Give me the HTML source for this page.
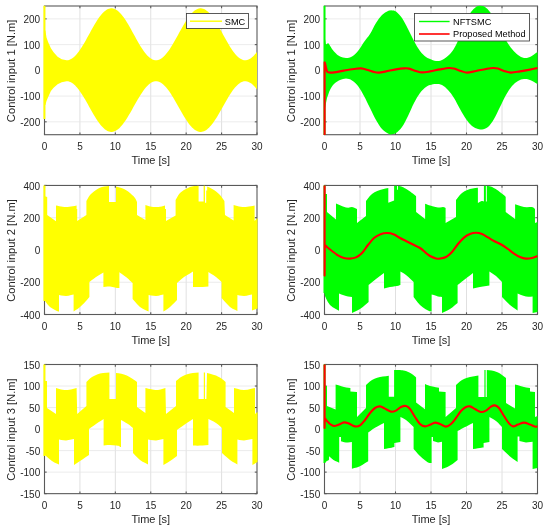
<!DOCTYPE html>
<html><head><meta charset="utf-8"><title>Control inputs</title>
<style>html,body{margin:0;padding:0;background:#fff}body{width:550px;height:531px;overflow:hidden}</style>
</head><body>
<svg width="550" height="531" viewBox="0 0 550 531" style="display:block">
<rect width="550" height="531" fill="#fff"/>
<g stroke-width="0.75"><line stroke="#cfcfcf" stroke-width="0.65" x1="79.92" y1="6" x2="79.92" y2="134.7"/><line stroke="#cfcfcf" stroke-width="0.65" x1="115.33" y1="6" x2="115.33" y2="134.7"/><line stroke="#cfcfcf" stroke-width="0.65" x1="150.75" y1="6" x2="150.75" y2="134.7"/><line stroke="#cfcfcf" stroke-width="0.65" x1="186.17" y1="6" x2="186.17" y2="134.7"/><line stroke="#cfcfcf" stroke-width="0.65" x1="221.58" y1="6" x2="221.58" y2="134.7"/><line stroke="#e6e6e6" x1="44.5" y1="121.83" x2="257" y2="121.83"/><line stroke="#e6e6e6" x1="44.5" y1="96.09" x2="257" y2="96.09"/><line stroke="#e6e6e6" x1="44.5" y1="70.35" x2="257" y2="70.35"/><line stroke="#e6e6e6" x1="44.5" y1="44.61" x2="257" y2="44.61"/><line stroke="#e6e6e6" x1="44.5" y1="18.87" x2="257" y2="18.87"/></g>
<g stroke="#5a5a5a" stroke-width="1.1"><rect x="44.5" y="6" width="212.5" height="128.7" fill="none"/><line x1="44.5" y1="134.7" x2="44.5" y2="132.5"/><line x1="44.5" y1="6" x2="44.5" y2="8.2"/><line x1="79.92" y1="134.7" x2="79.92" y2="132.5"/><line x1="79.92" y1="6" x2="79.92" y2="8.2"/><line x1="115.33" y1="134.7" x2="115.33" y2="132.5"/><line x1="115.33" y1="6" x2="115.33" y2="8.2"/><line x1="150.75" y1="134.7" x2="150.75" y2="132.5"/><line x1="150.75" y1="6" x2="150.75" y2="8.2"/><line x1="186.17" y1="134.7" x2="186.17" y2="132.5"/><line x1="186.17" y1="6" x2="186.17" y2="8.2"/><line x1="221.58" y1="134.7" x2="221.58" y2="132.5"/><line x1="221.58" y1="6" x2="221.58" y2="8.2"/><line x1="257" y1="134.7" x2="257" y2="132.5"/><line x1="257" y1="6" x2="257" y2="8.2"/><line x1="44.5" y1="121.83" x2="46.7" y2="121.83"/><line x1="257" y1="121.83" x2="254.8" y2="121.83"/><line x1="44.5" y1="96.09" x2="46.7" y2="96.09"/><line x1="257" y1="96.09" x2="254.8" y2="96.09"/><line x1="44.5" y1="70.35" x2="46.7" y2="70.35"/><line x1="257" y1="70.35" x2="254.8" y2="70.35"/><line x1="44.5" y1="44.61" x2="46.7" y2="44.61"/><line x1="257" y1="44.61" x2="254.8" y2="44.61"/><line x1="44.5" y1="18.87" x2="46.7" y2="18.87"/><line x1="257" y1="18.87" x2="254.8" y2="18.87"/></g>
<g stroke-width="0.75"><line stroke="#cfcfcf" stroke-width="0.65" x1="360" y1="6" x2="360" y2="134.7"/><line stroke="#cfcfcf" stroke-width="0.65" x1="395.5" y1="6" x2="395.5" y2="134.7"/><line stroke="#cfcfcf" stroke-width="0.65" x1="431" y1="6" x2="431" y2="134.7"/><line stroke="#cfcfcf" stroke-width="0.65" x1="466.5" y1="6" x2="466.5" y2="134.7"/><line stroke="#cfcfcf" stroke-width="0.65" x1="502" y1="6" x2="502" y2="134.7"/><line stroke="#e6e6e6" x1="324.5" y1="121.83" x2="537.5" y2="121.83"/><line stroke="#e6e6e6" x1="324.5" y1="96.09" x2="537.5" y2="96.09"/><line stroke="#e6e6e6" x1="324.5" y1="70.35" x2="537.5" y2="70.35"/><line stroke="#e6e6e6" x1="324.5" y1="44.61" x2="537.5" y2="44.61"/><line stroke="#e6e6e6" x1="324.5" y1="18.87" x2="537.5" y2="18.87"/></g>
<g stroke="#5a5a5a" stroke-width="1.1"><rect x="324.5" y="6" width="213" height="128.7" fill="none"/><line x1="324.5" y1="134.7" x2="324.5" y2="132.5"/><line x1="324.5" y1="6" x2="324.5" y2="8.2"/><line x1="360" y1="134.7" x2="360" y2="132.5"/><line x1="360" y1="6" x2="360" y2="8.2"/><line x1="395.5" y1="134.7" x2="395.5" y2="132.5"/><line x1="395.5" y1="6" x2="395.5" y2="8.2"/><line x1="431" y1="134.7" x2="431" y2="132.5"/><line x1="431" y1="6" x2="431" y2="8.2"/><line x1="466.5" y1="134.7" x2="466.5" y2="132.5"/><line x1="466.5" y1="6" x2="466.5" y2="8.2"/><line x1="502" y1="134.7" x2="502" y2="132.5"/><line x1="502" y1="6" x2="502" y2="8.2"/><line x1="537.5" y1="134.7" x2="537.5" y2="132.5"/><line x1="537.5" y1="6" x2="537.5" y2="8.2"/><line x1="324.5" y1="121.83" x2="326.7" y2="121.83"/><line x1="537.5" y1="121.83" x2="535.3" y2="121.83"/><line x1="324.5" y1="96.09" x2="326.7" y2="96.09"/><line x1="537.5" y1="96.09" x2="535.3" y2="96.09"/><line x1="324.5" y1="70.35" x2="326.7" y2="70.35"/><line x1="537.5" y1="70.35" x2="535.3" y2="70.35"/><line x1="324.5" y1="44.61" x2="326.7" y2="44.61"/><line x1="537.5" y1="44.61" x2="535.3" y2="44.61"/><line x1="324.5" y1="18.87" x2="326.7" y2="18.87"/><line x1="537.5" y1="18.87" x2="535.3" y2="18.87"/></g>
<g stroke-width="0.75"><line stroke="#cfcfcf" stroke-width="0.65" x1="79.92" y1="185.45" x2="79.92" y2="314.5"/><line stroke="#cfcfcf" stroke-width="0.65" x1="115.33" y1="185.45" x2="115.33" y2="314.5"/><line stroke="#cfcfcf" stroke-width="0.65" x1="150.75" y1="185.45" x2="150.75" y2="314.5"/><line stroke="#cfcfcf" stroke-width="0.65" x1="186.17" y1="185.45" x2="186.17" y2="314.5"/><line stroke="#cfcfcf" stroke-width="0.65" x1="221.58" y1="185.45" x2="221.58" y2="314.5"/><line stroke="#e6e6e6" x1="44.5" y1="282.24" x2="257" y2="282.24"/><line stroke="#e6e6e6" x1="44.5" y1="249.97" x2="257" y2="249.97"/><line stroke="#e6e6e6" x1="44.5" y1="217.71" x2="257" y2="217.71"/></g>
<g stroke="#5a5a5a" stroke-width="1.1"><rect x="44.5" y="185.45" width="212.5" height="129.05" fill="none"/><line x1="44.5" y1="314.5" x2="44.5" y2="312.3"/><line x1="44.5" y1="185.45" x2="44.5" y2="187.65"/><line x1="79.92" y1="314.5" x2="79.92" y2="312.3"/><line x1="79.92" y1="185.45" x2="79.92" y2="187.65"/><line x1="115.33" y1="314.5" x2="115.33" y2="312.3"/><line x1="115.33" y1="185.45" x2="115.33" y2="187.65"/><line x1="150.75" y1="314.5" x2="150.75" y2="312.3"/><line x1="150.75" y1="185.45" x2="150.75" y2="187.65"/><line x1="186.17" y1="314.5" x2="186.17" y2="312.3"/><line x1="186.17" y1="185.45" x2="186.17" y2="187.65"/><line x1="221.58" y1="314.5" x2="221.58" y2="312.3"/><line x1="221.58" y1="185.45" x2="221.58" y2="187.65"/><line x1="257" y1="314.5" x2="257" y2="312.3"/><line x1="257" y1="185.45" x2="257" y2="187.65"/><line x1="44.5" y1="314.5" x2="46.7" y2="314.5"/><line x1="257" y1="314.5" x2="254.8" y2="314.5"/><line x1="44.5" y1="282.24" x2="46.7" y2="282.24"/><line x1="257" y1="282.24" x2="254.8" y2="282.24"/><line x1="44.5" y1="249.97" x2="46.7" y2="249.97"/><line x1="257" y1="249.97" x2="254.8" y2="249.97"/><line x1="44.5" y1="217.71" x2="46.7" y2="217.71"/><line x1="257" y1="217.71" x2="254.8" y2="217.71"/><line x1="44.5" y1="185.45" x2="46.7" y2="185.45"/><line x1="257" y1="185.45" x2="254.8" y2="185.45"/></g>
<g stroke-width="0.75"><line stroke="#cfcfcf" stroke-width="0.65" x1="360" y1="185.45" x2="360" y2="314.5"/><line stroke="#cfcfcf" stroke-width="0.65" x1="395.5" y1="185.45" x2="395.5" y2="314.5"/><line stroke="#cfcfcf" stroke-width="0.65" x1="431" y1="185.45" x2="431" y2="314.5"/><line stroke="#cfcfcf" stroke-width="0.65" x1="466.5" y1="185.45" x2="466.5" y2="314.5"/><line stroke="#cfcfcf" stroke-width="0.65" x1="502" y1="185.45" x2="502" y2="314.5"/><line stroke="#e6e6e6" x1="324.5" y1="282.24" x2="537.5" y2="282.24"/><line stroke="#e6e6e6" x1="324.5" y1="249.97" x2="537.5" y2="249.97"/><line stroke="#e6e6e6" x1="324.5" y1="217.71" x2="537.5" y2="217.71"/></g>
<g stroke="#5a5a5a" stroke-width="1.1"><rect x="324.5" y="185.45" width="213" height="129.05" fill="none"/><line x1="324.5" y1="314.5" x2="324.5" y2="312.3"/><line x1="324.5" y1="185.45" x2="324.5" y2="187.65"/><line x1="360" y1="314.5" x2="360" y2="312.3"/><line x1="360" y1="185.45" x2="360" y2="187.65"/><line x1="395.5" y1="314.5" x2="395.5" y2="312.3"/><line x1="395.5" y1="185.45" x2="395.5" y2="187.65"/><line x1="431" y1="314.5" x2="431" y2="312.3"/><line x1="431" y1="185.45" x2="431" y2="187.65"/><line x1="466.5" y1="314.5" x2="466.5" y2="312.3"/><line x1="466.5" y1="185.45" x2="466.5" y2="187.65"/><line x1="502" y1="314.5" x2="502" y2="312.3"/><line x1="502" y1="185.45" x2="502" y2="187.65"/><line x1="537.5" y1="314.5" x2="537.5" y2="312.3"/><line x1="537.5" y1="185.45" x2="537.5" y2="187.65"/><line x1="324.5" y1="314.5" x2="326.7" y2="314.5"/><line x1="537.5" y1="314.5" x2="535.3" y2="314.5"/><line x1="324.5" y1="282.24" x2="326.7" y2="282.24"/><line x1="537.5" y1="282.24" x2="535.3" y2="282.24"/><line x1="324.5" y1="249.97" x2="326.7" y2="249.97"/><line x1="537.5" y1="249.97" x2="535.3" y2="249.97"/><line x1="324.5" y1="217.71" x2="326.7" y2="217.71"/><line x1="537.5" y1="217.71" x2="535.3" y2="217.71"/><line x1="324.5" y1="185.45" x2="326.7" y2="185.45"/><line x1="537.5" y1="185.45" x2="535.3" y2="185.45"/></g>
<g stroke-width="0.75"><line stroke="#cfcfcf" stroke-width="0.65" x1="79.92" y1="364.5" x2="79.92" y2="493.65"/><line stroke="#cfcfcf" stroke-width="0.65" x1="115.33" y1="364.5" x2="115.33" y2="493.65"/><line stroke="#cfcfcf" stroke-width="0.65" x1="150.75" y1="364.5" x2="150.75" y2="493.65"/><line stroke="#cfcfcf" stroke-width="0.65" x1="186.17" y1="364.5" x2="186.17" y2="493.65"/><line stroke="#cfcfcf" stroke-width="0.65" x1="221.58" y1="364.5" x2="221.58" y2="493.65"/><line stroke="#e6e6e6" x1="44.5" y1="472.12" x2="257" y2="472.12"/><line stroke="#e6e6e6" x1="44.5" y1="450.6" x2="257" y2="450.6"/><line stroke="#e6e6e6" x1="44.5" y1="429.07" x2="257" y2="429.07"/><line stroke="#e6e6e6" x1="44.5" y1="407.55" x2="257" y2="407.55"/><line stroke="#e6e6e6" x1="44.5" y1="386.02" x2="257" y2="386.02"/></g>
<g stroke="#5a5a5a" stroke-width="1.1"><rect x="44.5" y="364.5" width="212.5" height="129.15" fill="none"/><line x1="44.5" y1="493.65" x2="44.5" y2="491.45"/><line x1="44.5" y1="364.5" x2="44.5" y2="366.7"/><line x1="79.92" y1="493.65" x2="79.92" y2="491.45"/><line x1="79.92" y1="364.5" x2="79.92" y2="366.7"/><line x1="115.33" y1="493.65" x2="115.33" y2="491.45"/><line x1="115.33" y1="364.5" x2="115.33" y2="366.7"/><line x1="150.75" y1="493.65" x2="150.75" y2="491.45"/><line x1="150.75" y1="364.5" x2="150.75" y2="366.7"/><line x1="186.17" y1="493.65" x2="186.17" y2="491.45"/><line x1="186.17" y1="364.5" x2="186.17" y2="366.7"/><line x1="221.58" y1="493.65" x2="221.58" y2="491.45"/><line x1="221.58" y1="364.5" x2="221.58" y2="366.7"/><line x1="257" y1="493.65" x2="257" y2="491.45"/><line x1="257" y1="364.5" x2="257" y2="366.7"/><line x1="44.5" y1="493.65" x2="46.7" y2="493.65"/><line x1="257" y1="493.65" x2="254.8" y2="493.65"/><line x1="44.5" y1="472.12" x2="46.7" y2="472.12"/><line x1="257" y1="472.12" x2="254.8" y2="472.12"/><line x1="44.5" y1="450.6" x2="46.7" y2="450.6"/><line x1="257" y1="450.6" x2="254.8" y2="450.6"/><line x1="44.5" y1="429.07" x2="46.7" y2="429.07"/><line x1="257" y1="429.07" x2="254.8" y2="429.07"/><line x1="44.5" y1="407.55" x2="46.7" y2="407.55"/><line x1="257" y1="407.55" x2="254.8" y2="407.55"/><line x1="44.5" y1="386.02" x2="46.7" y2="386.02"/><line x1="257" y1="386.02" x2="254.8" y2="386.02"/><line x1="44.5" y1="364.5" x2="46.7" y2="364.5"/><line x1="257" y1="364.5" x2="254.8" y2="364.5"/></g>
<g stroke-width="0.75"><line stroke="#cfcfcf" stroke-width="0.65" x1="360" y1="364.5" x2="360" y2="493.65"/><line stroke="#cfcfcf" stroke-width="0.65" x1="395.5" y1="364.5" x2="395.5" y2="493.65"/><line stroke="#cfcfcf" stroke-width="0.65" x1="431" y1="364.5" x2="431" y2="493.65"/><line stroke="#cfcfcf" stroke-width="0.65" x1="466.5" y1="364.5" x2="466.5" y2="493.65"/><line stroke="#cfcfcf" stroke-width="0.65" x1="502" y1="364.5" x2="502" y2="493.65"/><line stroke="#e6e6e6" x1="324.5" y1="472.12" x2="537.5" y2="472.12"/><line stroke="#e6e6e6" x1="324.5" y1="450.6" x2="537.5" y2="450.6"/><line stroke="#e6e6e6" x1="324.5" y1="429.07" x2="537.5" y2="429.07"/><line stroke="#e6e6e6" x1="324.5" y1="407.55" x2="537.5" y2="407.55"/><line stroke="#e6e6e6" x1="324.5" y1="386.02" x2="537.5" y2="386.02"/></g>
<g stroke="#5a5a5a" stroke-width="1.1"><rect x="324.5" y="364.5" width="213" height="129.15" fill="none"/><line x1="324.5" y1="493.65" x2="324.5" y2="491.45"/><line x1="324.5" y1="364.5" x2="324.5" y2="366.7"/><line x1="360" y1="493.65" x2="360" y2="491.45"/><line x1="360" y1="364.5" x2="360" y2="366.7"/><line x1="395.5" y1="493.65" x2="395.5" y2="491.45"/><line x1="395.5" y1="364.5" x2="395.5" y2="366.7"/><line x1="431" y1="493.65" x2="431" y2="491.45"/><line x1="431" y1="364.5" x2="431" y2="366.7"/><line x1="466.5" y1="493.65" x2="466.5" y2="491.45"/><line x1="466.5" y1="364.5" x2="466.5" y2="366.7"/><line x1="502" y1="493.65" x2="502" y2="491.45"/><line x1="502" y1="364.5" x2="502" y2="366.7"/><line x1="537.5" y1="493.65" x2="537.5" y2="491.45"/><line x1="537.5" y1="364.5" x2="537.5" y2="366.7"/><line x1="324.5" y1="493.65" x2="326.7" y2="493.65"/><line x1="537.5" y1="493.65" x2="535.3" y2="493.65"/><line x1="324.5" y1="472.12" x2="326.7" y2="472.12"/><line x1="537.5" y1="472.12" x2="535.3" y2="472.12"/><line x1="324.5" y1="450.6" x2="326.7" y2="450.6"/><line x1="537.5" y1="450.6" x2="535.3" y2="450.6"/><line x1="324.5" y1="429.07" x2="326.7" y2="429.07"/><line x1="537.5" y1="429.07" x2="535.3" y2="429.07"/><line x1="324.5" y1="407.55" x2="326.7" y2="407.55"/><line x1="537.5" y1="407.55" x2="535.3" y2="407.55"/><line x1="324.5" y1="386.02" x2="326.7" y2="386.02"/><line x1="537.5" y1="386.02" x2="535.3" y2="386.02"/><line x1="324.5" y1="364.5" x2="326.7" y2="364.5"/><line x1="537.5" y1="364.5" x2="535.3" y2="364.5"/></g>
<clipPath id="c00"><rect x="43" y="5.4" width="215" height="129.9"/></clipPath>
<g clip-path="url(#c00)"><polygon points="44.5,30.5 45.4,30.5 46.5,37.5 48.1,42.1 50.9,48.2 53.6,52.3 57.6,56.7 61.7,59.3 66.5,60.3 67,60.23 68,60.14 69,59.92 70,59.58 71,59.11 72,58.52 73,57.8 74,56.97 75,56.03 76,54.98 77,53.83 78,52.58 79,51.23 80,49.81 81,48.31 82,46.74 83,45.1 84,43.42 85,41.68 86,39.92 87,38.12 88,36.3 89,34.48 90,32.65 91,30.83 92,29.03 93,27.25 94,25.51 95,23.82 96,22.17 97,20.58 98,19.07 99,17.62 100,16.26 101,14.99 102,13.82 103,12.74 104,11.78 105,10.92 106,10.18 107,9.56 108,9.06 109,8.69 110,8.45 111,8.33 112,8.34 113,8.48 114,8.75 115,9.14 116,9.66 117,10.3 118,11.06 119,11.93 120,12.92 121,14.01 122,15.2 123,16.49 124,17.86 125,19.32 126,20.85 127,22.44 128,24.1 129,25.8 130,27.55 131,29.33 132,31.14 133,32.96 134,34.78 135,36.61 136,38.42 137,40.22 138,41.98 139,43.7 140,45.38 141,47.01 142,48.57 143,50.06 144,51.47 145,52.79 146,54.03 147,55.16 148,56.2 149,57.12 150,57.93 151,58.62 152,59.2 153,59.65 154,59.97 155,60.16 156,60.23 157,60.17 158,59.98 159,59.67 160,59.22 161,58.66 162,57.97 163,57.17 164,56.25 165,55.22 166,54.09 167,52.86 168,51.54 169,50.13 170,48.65 171,47.09 172,45.47 173,43.79 174,42.07 175,40.31 176,38.52 177,36.71 178,34.88 179,33.05 180,31.23 181,29.43 182,27.64 183,25.89 184,24.19 185,22.53 186,20.93 187,19.4 188,17.94 189,16.56 190,15.27 191,14.07 192,12.97 193,11.98 194,11.1 195,10.34 196,9.69 197,9.16 198,8.76 199,8.49 200,8.34 201,8.33 202,8.44 203,8.68 204,9.04 205,9.53 206,10.15 207,10.88 208,11.73 209,12.69 210,13.76 211,14.93 212,16.19 213,17.55 214,18.99 215,20.5 216,22.08 217,23.73 218,25.42 219,27.16 220,28.93 221,30.74 222,32.55 223,34.38 224,36.21 225,38.02 226,39.82 227,41.59 228,43.33 229,45.02 230,46.65 231,48.23 232,49.73 233,51.16 234,52.51 235,53.76 236,54.92 237,55.98 238,56.92 239,57.76 240,58.48 241,59.08 242,59.56 243,59.91 244,60.13 245,60.23 246,60.2 247,60.04 248,59.75 249,59.33 250,58.79 251,58.13 252,57.35 253,56.46 254,55.46 255,54.35 256,53.14 257,51.84 257,89.44 256,88.17 255,86.99 254,85.91 253,84.93 252,84.06 251,83.3 250,82.65 249,82.13 248,81.72 247,81.44 246,81.28 245,81.25 244,81.34 243,81.56 242,81.91 241,82.37 240,82.96 239,83.66 238,84.48 237,85.4 236,86.43 235,87.56 234,88.79 233,90.1 232,91.5 231,92.97 230,94.5 229,96.1 228,97.75 227,99.44 226,101.17 225,102.93 224,104.7 223,106.48 222,108.26 221,110.04 220,111.8 219,113.53 218,115.23 217,116.88 216,118.48 215,120.03 214,121.51 213,122.91 212,124.23 211,125.47 210,126.61 209,127.65 208,128.59 207,129.42 206,130.13 205,130.73 204,131.21 203,131.57 202,131.8 201,131.91 200,131.89 199,131.75 198,131.48 197,131.09 196,130.58 195,129.95 194,129.2 193,128.34 192,127.38 191,126.31 190,125.14 189,123.88 188,122.53 187,121.11 186,119.61 185,118.05 184,116.43 183,114.76 182,113.06 181,111.32 180,109.55 179,107.78 178,105.99 177,104.21 176,102.44 175,100.69 174,98.97 173,97.29 172,95.66 171,94.08 170,92.56 169,91.11 168,89.73 167,88.44 166,87.24 165,86.14 164,85.14 163,84.24 162,83.46 161,82.79 160,82.23 159,81.8 158,81.49 157,81.31 156,81.25 155,81.31 154,81.5 153,81.82 152,82.26 151,82.82 150,83.49 149,84.29 148,85.19 147,86.2 146,87.31 145,88.51 144,89.8 143,91.18 142,92.63 141,94.16 140,95.74 139,97.38 138,99.06 137,100.79 136,102.54 135,104.31 134,106.09 133,107.87 132,109.65 131,111.41 130,113.15 129,114.85 128,116.52 127,118.13 126,119.69 125,121.18 124,122.61 123,123.95 122,125.2 121,126.37 120,127.43 119,128.39 118,129.25 117,129.99 116,130.61 115,131.12 114,131.5 113,131.76 112,131.9 111,131.91 110,131.79 109,131.55 108,131.19 107,130.7 106,130.1 105,129.38 104,128.54 103,127.6 102,126.55 101,125.4 100,124.16 99,122.84 98,121.43 97,119.95 96,118.4 95,116.79 94,115.14 93,113.44 92,111.7 91,109.94 90,108.17 89,106.39 88,104.6 87,102.83 86,101.08 85,99.35 84,97.66 83,96.01 82,94.42 81,92.89 80,91.42 79,90.03 78,88.72 77,87.5 76,86.38 75,85.35 74,84.43 73,83.62 72,82.92 71,82.34 70,81.89 69,81.55 68,81.34 67,81.25 66.5,81.3 61.7,82.3 57.6,84.3 53.6,87.7 50.9,91.1 48.1,97.2 46.5,101 45.4,105 44.5,105" fill="#ffff00"/><line x1="44.4" y1="5.6" x2="44.4" y2="119" stroke="#ffff00" stroke-width="2"/></g>
<clipPath id="c10"><rect x="323" y="5.4" width="215.5" height="129.9"/></clipPath>
<g clip-path="url(#c10)"><polygon points="324.5,39 325,39 326,45 328,43 329,44 332,49 333,50.19 334,51.41 335,52.58 336,53.6 336.95,54.45 337.88,55.19 338.86,55.83 340,56.4 341.36,56.96 342.88,57.48 344.45,57.85 346,58 347.5,57.91 349,57.64 350.5,57.14 352,56.4 353.5,55.4 355,54.16 356.5,52.69 358,51 359.5,48.98 361,46.66 362.5,44.26 364,42 365.5,40 367,38.12 368.5,36.19 370,34 371.5,31.39 373,28.5 374.5,25.61 376,23 377.5,20.7 379,18.56 380.5,16.65 382,15 383.55,13.64 385.12,12.54 386.64,11.67 388,11 389.14,10.57 390.12,10.38 391.05,10.34 392,10.4 392.95,10.45 393.88,10.56 394.86,10.89 396,11.6 397.36,12.73 398.88,14.19 400.45,15.95 402,18 403.5,20.4 405,23.15 406.5,26.07 408,29 409.5,31.98 411,35.06 412.5,38.12 414,41 415.5,43.73 417,46.38 418.5,48.83 420,51 421.55,52.88 423.12,54.5 424.64,55.88 426,57 427.09,57.78 428,58.25 428.91,58.59 430,59 431.36,59.57 432.88,60.19 434.45,60.71 436,61 437.45,61.08 438.88,61 440.36,60.67 442,60 443.91,58.92 446,57.5 448.09,55.83 450,54 451.66,52.03 453.19,49.88 454.62,47.53 456,45 457.32,42.21 458.56,39.19 459.77,36.07 461,33 462.25,29.93 463.5,26.81 464.75,23.79 466,21 467.25,18.45 468.5,16.06 469.75,13.9 471,12 472.27,10.38 473.56,9.03 474.82,7.9 476,7 477.05,6.33 478,5.9 478.95,5.67 480,5.6 481.18,5.67 482.44,5.9 483.73,6.33 485,7 486.25,7.93 487.5,9.09 488.75,10.45 490,12 491.23,13.72 492.44,15.62 493.68,17.72 495,20 496.43,22.54 497.94,25.31 499.48,28.18 501,31 502.52,33.84 504.06,36.75 505.57,39.53 507,42 508.3,44.05 509.5,45.81 510.7,47.41 512,49 513.43,50.64 514.94,52.25 516.48,53.73 518,55 519.5,56.05 521,56.94 522.5,57.6 524,58 525.46,58.12 526.91,58 528.39,57.62 530,57 531.77,56.03 533.66,54.75 535.59,53.34 537.5,52 537.5,84 535.59,82.93 533.66,81.81 531.77,80.79 530,80 528.39,79.47 526.91,79.12 525.46,78.97 524,79 522.5,79.22 521,79.62 519.5,80.22 518,81 516.5,81.95 515,83.06 513.5,84.4 512,86 510.5,87.9 509,90.06 507.5,92.45 506,95 504.5,97.79 503,100.81 501.5,103.93 500,107 498.5,110.09 497,113.25 495.5,116.28 494,119 492.5,121.41 491,123.6 489.5,125.49 488,127 486.45,128.06 484.88,128.73 483.36,129.13 482,129.4 480.91,129.56 480,129.54 479.09,129.35 478,129 476.64,128.53 475.12,127.91 473.55,127.09 472,126 470.5,124.6 469,122.94 467.5,121.05 466,119 464.5,116.73 463,114.25 461.5,111.64 460,109 458.5,106.25 457,103.38 455.5,100.56 454,98 452.5,95.72 451,93.62 449.5,91.72 448,90 446.5,88.45 445,87.06 443.5,85.9 442,85 440.5,84.42 439,84.12 437.5,84.02 436,84 434.45,84.09 432.88,84.31 431.36,84.63 430,85 428.91,85.34 428,85.69 427.09,86.2 426,87 424.64,88.12 423.12,89.5 421.55,91.12 420,93 418.5,95.15 417,97.56 415.5,100.2 414,103 412.5,106.09 411,109.44 409.5,112.82 408,116 406.5,119.01 405,121.94 403.5,124.65 402,127 400.48,128.96 398.94,130.6 397.43,131.94 396,133 394.63,133.73 393.31,134.12 392.09,134.31 391,134.4 390.18,134.44 389.56,134.37 388.91,134.12 388,133.6 386.71,132.82 385.19,131.81 383.57,130.55 382,129 380.5,127.13 379,124.96 377.5,122.56 376,120 374.5,117.21 373,114.19 371.5,111.07 370,108 368.5,104.95 367,101.88 365.5,98.86 364,96 362.5,93.26 361,90.6 359.5,88.14 358,86 356.5,84.2 355,82.69 353.5,81.43 352,80.4 350.5,79.61 349,79.06 347.5,78.74 346,78.6 344.5,78.66 343,78.94 341.5,79.39 340,80 338.45,80.77 336.88,81.71 335.36,82.8 334,84 332.84,85.31 331.81,86.75 330.88,88.31 330,90 329.18,91.86 328.44,93.88 327.73,95.95 327,98 325,108 324.5,108" fill="#00ff00"/><line x1="324.5" y1="5.6" x2="324.5" y2="135" stroke="#00ff00" stroke-width="2"/><path d="M324.6,135 L324.6,62.4 L325,63 C325.33,64.33 326.33,69.43 327,71 C327.67,72.57 327.83,72.17 329,72.4 C330.17,72.63 331.5,72.7 334,72.4 C336.5,72.1 340.67,71.17 344,70.6 C347.33,70.03 351.17,69.37 354,69 C356.83,68.63 358.67,68.23 361,68.4 C363.33,68.57 365.83,69.4 368,70 C370.17,70.6 372.17,71.57 374,72 C375.83,72.43 377,72.7 379,72.6 C381,72.5 383.17,71.93 386,71.4 C388.83,70.87 393,69.9 396,69.4 C399,68.9 401.83,68.53 404,68.4 C406.17,68.27 407,68.17 409,68.6 C411,69.03 413.83,70.37 416,71 C418.17,71.63 419.67,72.33 422,72.4 C424.33,72.47 427,71.9 430,71.4 C433,70.9 436.83,69.97 440,69.4 C443.17,68.83 446.67,68.13 449,68 C451.33,67.87 452,68.1 454,68.6 C456,69.1 458.83,70.33 461,71 C463.17,71.67 464.5,72.6 467,72.6 C469.5,72.6 472.83,71.6 476,71 C479.17,70.4 483.17,69.5 486,69 C488.83,68.5 491,68.07 493,68 C495,67.93 496.17,68.1 498,68.6 C499.83,69.1 501.83,70.33 504,71 C506.17,71.67 508.33,72.53 511,72.6 C513.67,72.67 516.83,71.9 520,71.4 C523.17,70.9 527.1,70.17 530,69.6 C532.9,69.03 536.17,68.27 537.4,68" fill="none" stroke="#ff0000" stroke-width="2.1" stroke-linejoin="round"/></g>
<clipPath id="c01"><rect x="43" y="184.85" width="215" height="130.25"/></clipPath>
<g clip-path="url(#c01)"><polygon points="44.5,195.5 44.81,195.85 45.11,196.2 45.5,196.5 46.01,196.7 46.61,196.85 47.2,197 47.2,215 56,221.2 56,205.4 57.67,205.83 59.33,206.26 61,206.6 62.67,206.82 64.33,206.96 66,207 67.64,206.95 69.29,206.81 71,206.6 72.82,206.31 74.71,205.96 76.6,205.6 76.6,209 77.2,209 77.2,221 86.4,215 86.4,201 87.51,198.96 88.62,196.93 90,195 91.82,193.19 93.91,191.48 96,190 97.96,188.78 99.93,187.78 102,187 104.26,186.52 106.63,186.26 109,186 109,202 116,202 116,186.4 118.74,187.21 121.48,188.03 124,189 126.19,190.19 128.15,191.54 130,193 131.85,194.63 133.59,196.37 135,198 135.89,199.41 136.44,200.7 137,202 137,215 145.4,220 145.4,205 146.92,205.5 148.44,205.99 150,206.4 151.64,206.69 153.32,206.89 155,207 156.67,207.03 158.33,206.97 160,206.8 161.67,206.47 163.33,206.04 165,205.6 165,209 166,209 166,221 175.6,215.6 175.6,200 177.01,197.56 178.41,195.11 180,193 181.88,191.39 183.94,190.12 186,189 187.98,187.96 189.96,187.07 192,186.4 194.16,186.05 196.38,185.93 198.6,185.8 198.6,201.5 203.6,201.5 203.6,185.8 205,185.8 205,202.7 206.2,202.7 206.2,190.5 207.2,190.5 207.2,186.4 209.5,187.55 211.79,188.7 214,190 216.12,191.53 218.15,193.21 220,195 221.59,196.93 222.99,198.96 224.4,201 225,215 233.6,220.4 233.6,205 235.41,205.54 237.23,206.07 239,206.5 240.7,206.77 242.35,206.94 244,207 245.64,206.96 247.29,206.81 249,206.6 250.82,206.31 252.71,205.96 254.6,205.6 254.6,221 257.5,218 257.5,308.5 252,310.5 252,294.4 249.28,295.03 246.56,295.66 244,296 241.7,295.86 239.55,295.43 237.4,295 237.4,311 234.97,309.85 232.54,308.7 230,307 227.27,304.37 224.44,301.19 221.6,298 221.6,282 219.81,280.33 218.01,278.67 216,277 213.61,275.33 211.01,273.67 208.4,272 208.4,286.6 205.55,286.75 202.7,286.9 200,287 197.56,287.03 195.28,287.01 193,287 193,271.6 189.93,273.38 186.85,275.16 184,277 181.52,278.96 179.26,280.98 177,283 177,300 174.65,302.42 172.3,304.84 170,307 167.77,308.71 165.59,310.16 163.4,311.6 163.4,294.4 160.93,295.03 158.47,295.66 156,296 153.53,295.86 151.07,295.43 148.6,295 148.6,311.6 145.69,310.19 142.78,308.79 140,307 137.44,304.59 135.02,301.79 132.6,299 132.6,283 130.36,280.93 128.13,278.85 126,277 123.89,275.41 121.89,274.04 120.4,273 119.73,272.44 119.56,272.22 119.4,272 119.4,288 118.77,288.05 118.14,288.1 117,288 114.99,287.57 112.47,286.99 110,286.6 107.77,286.6 105.59,286.8 103.4,287 103.4,272.4 100.9,273.92 98.41,275.44 96,277 93.74,278.64 91.57,280.32 89.4,282 89.4,297 88.36,298.26 87.33,299.52 86,301 84.21,302.9 82.13,305.03 80,307 77.9,308.64 75.75,310.12 73.6,311.6 73.6,294.4 71.04,295.03 68.49,295.66 66,296 63.62,295.86 61.31,295.43 59,295 59,311.4 58.52,311.4 58.04,311.4 57,311 54.96,310.01 52.37,308.61 50,307 48.02,304.93 46.26,302.63 45,301 44.5,300.56 44.5,300.78 44.5,301" fill="#ffff00"/><line x1="44.4" y1="185.6" x2="44.4" y2="301" stroke="#ffff00" stroke-width="2"/></g>
<clipPath id="c11"><rect x="323" y="184.85" width="215.5" height="130.25"/></clipPath>
<g clip-path="url(#c11)"><polygon points="324.5,194 327,194 327,212 336,219.5 336,203.6 339.48,205.1 342.96,206.61 346,207.6 348.33,207.64 350.22,207.18 352,207 353.74,207.47 355.37,208.24 357,209 357,223 366,216 366,201 367.93,198.56 369.85,196.11 372,194 374.51,192.37 377.24,191.08 380,190 382.74,189.16 385.52,188.53 388.3,187.9 388.3,202.7 394.1,200.4 394.1,185.8 397,185.8 397,189.8 397.9,189.8 397.9,186 399.07,186.12 400.24,186.24 401.4,186.5 402.54,186.97 403.67,187.57 404.8,188.2 405.93,188.83 407.07,189.49 408.2,190.2 409.33,190.99 410.47,191.84 411.6,192.7 412.82,193.61 414.04,194.54 415,195.3 415.54,195.78 415.82,196.09 416.1,196.4 416.1,212 425.1,219 425.1,203.75 426.62,204.36 428.14,204.97 430,205.6 432.55,206.35 435.44,207.12 438,207.6 439.98,207.53 441.62,207.18 443,207 444.04,207.21 444.82,207.61 445.6,208 445.6,223 456,217 456,200 457.93,197.56 459.85,195.11 462,193 464.52,191.34 467.27,190.01 470,189 472.64,188.39 475.27,188.1 477.9,187.8 477.9,202.9 479.19,202.22 480.47,201.54 481.6,201.1 482.47,201.07 483.19,201.29 483.9,201.5 483.9,185.7 485.9,185.7 485.9,201.5 486.8,201.5 486.8,185.8 488.07,185.97 489.35,186.15 490.7,186.5 492.19,187.11 493.75,187.91 495.3,188.8 496.8,189.79 498.3,190.87 499.8,192 501.45,193.25 503.11,194.55 504.4,195.6 505.08,196.23 505.39,196.61 505.7,197 505.7,212 515.1,219 515.1,204.3 518.1,205.3 521.1,206.3 524,207 526.92,207.13 529.74,206.95 532,207 533.37,207.52 534.19,208.26 535,209 535,223 537.5,222 537.5,312 532.6,313 532.6,296.6 530.47,296.63 528.33,296.66 526,296.4 523.33,295.66 520.47,294.63 517.6,293.6 517.6,310.4 515.08,308.7 512.56,306.99 510,305 507.36,302.53 504.68,299.76 502,297 502,282 500.02,279.94 498.04,277.88 496,276 493.84,274.41 491.62,273.01 489.4,271.6 489.4,285.6 486.18,286.07 482.96,286.53 480,287 477.49,287.47 475.24,287.93 473,288.4 473,273 469.9,275.41 466.81,277.81 464,280 461.67,281.81 459.64,283.41 457.6,285 457.6,303 455.08,305.07 452.56,307.15 450,309 447.36,310.48 444.68,311.74 442,313 442,297 440.76,296.85 439.51,296.7 438,296.4 436.04,295.84 433.82,295.12 431.6,294.4 431.6,311.4 430.56,311.31 429.53,311.22 428,310.6 425.6,309.18 422.71,307.22 420,305 417.75,302.51 415.67,299.76 413.6,297 413.6,282 410.99,279.53 408.39,277.07 406,275 403.99,273.6 402.19,272.6 400.4,271.6 400.4,285 399.4,285.33 398.4,285.67 397,286 394.9,286.32 392.39,286.64 390,287 387.93,287.44 385.96,287.92 384,288.4 384,273 381.31,275 378.62,277 376,279 373.49,281 371.04,283 368.6,285 368.6,302 365.71,304.44 362.82,306.89 360,309 357.29,310.56 354.64,311.78 352,313 352,297 350.04,296.72 348.07,296.44 346,296 343.74,295.3 341.37,294.45 339,293.6 339,310.8 335.85,308.99 332.7,307.17 330,305 327.87,302.01 326.19,298.67 325,296 324.5,294.56 324.5,293.78 324.5,293" fill="#00ff00"/><line x1="324.5" y1="185.6" x2="324.5" y2="293" stroke="#00ff00" stroke-width="2"/><path d="M324.6,185.6 L324.6,275.6 L324.8,245 C325.17,245.33 325.8,246 327,247 C328.2,248 330.17,249.6 332,251 C333.83,252.4 336,254.23 338,255.4 C340,256.57 342,257.47 344,258 C346,258.53 348,258.7 350,258.6 C352,258.5 354,258.33 356,257.4 C358,256.47 360,255.07 362,253 C364,250.93 366,247.5 368,245 C370,242.5 372,239.77 374,238 C376,236.23 377.83,235.23 380,234.4 C382.17,233.57 384.67,233 387,233 C389.33,233 391.83,233.57 394,234.4 C396.17,235.23 398,236.9 400,238 C402,239.1 404,240 406,241 C408,242 409.67,242.83 412,244 C414.33,245.17 417.67,246.5 420,248 C422.33,249.5 424.33,251.67 426,253 C427.67,254.33 428.33,255.1 430,256 C431.67,256.9 434.33,257.97 436,258.4 C437.67,258.83 438.33,258.83 440,258.6 C441.67,258.37 444,258.1 446,257 C448,255.9 450,254.17 452,252 C454,249.83 456,246.4 458,244 C460,241.6 462,239.27 464,237.6 C466,235.93 468,234.8 470,234 C472,233.2 474,232.8 476,232.8 C478,232.8 480,233.23 482,234 C484,234.77 486,236.23 488,237.4 C490,238.57 491.67,239.73 494,241 C496.33,242.27 499.67,243.67 502,245 C504.33,246.33 506,247.57 508,249 C510,250.43 512,252.27 514,253.6 C516,254.93 518,256.17 520,257 C522,257.83 524,258.43 526,258.6 C528,258.77 530.1,258.43 532,258 C533.9,257.57 536.5,256.33 537.4,256" fill="none" stroke="#ff0000" stroke-width="2.1" stroke-linejoin="round"/></g>
<clipPath id="c02"><rect x="43" y="363.9" width="215" height="130.35"/></clipPath>
<g clip-path="url(#c02)"><polygon points="44.5,381 47,381 47,408 56,414 56,388 57.67,388.54 59.33,389.07 61,389.5 62.67,389.78 64.33,389.94 66,390 67.64,389.94 69.29,389.78 71,389.5 72.82,389.07 74.71,388.54 76.6,388 77.2,414 86.4,406 86.4,382 88.18,380.27 89.96,378.55 92,377 94.44,375.66 97.14,374.5 100,373.6 103.03,373.09 106.21,372.84 109.4,372.6 109.4,399 116,399 116,373 118.67,373.37 121.33,373.74 124,374.4 126.78,375.56 129.56,377 132,378.4 133.89,379.63 135.44,380.81 137,382 137,407 145.4,413 145.4,388 146.81,388.33 148.21,388.67 150,389 152.44,389.44 155.25,389.89 158,390 160.51,389.56 162.96,388.78 165.4,388 166,414 176,406 176,381 177.93,379.41 179.85,377.81 182,376.4 184.5,375.2 187.21,374.18 190,373.4 192.82,372.97 195.71,372.79 198.6,372.6 198.6,399 203.8,399 203.8,372.6 205,372.6 205,399 206.4,399 207,373 210.11,373.84 213.22,374.67 216,375.6 218.31,376.69 220.29,377.87 222,379 223.38,380.03 224.49,381.01 225.6,382 225.6,407 234,413 234,388 237.3,388.81 240.59,389.63 244,390 247.59,389.63 251.3,388.81 255,388 255,414 257.5,412 257.5,462 252.4,465 252.4,439 249.53,439.55 246.67,440.1 244,440.4 241.67,440.3 239.53,439.95 237.4,439.6 237.4,464.4 234.96,463.03 232.51,461.66 230,460 227.38,457.86 224.69,455.43 222,453 222,428 220.06,426.3 218.12,424.59 216,423 213.59,421.59 210.99,420.3 208.4,419 208.4,445 205.55,445.22 202.7,445.44 200,445.6 197.56,445.64 195.28,445.62 193,445.6 193,419 189.93,421.04 186.85,423.07 184,425 181.52,426.74 179.26,428.37 177,430 177,456 174.65,457.7 172.3,459.41 170,461 167.77,462.41 165.59,463.7 163.4,465 163.4,439 160.96,439.55 158.51,440.1 156,440.4 153.38,440.3 150.69,439.95 148,439.6 148,464.4 145.3,463.03 142.59,461.66 140,460 137.59,457.86 135.3,455.43 133,453 133,428 131.41,426.67 129.81,425.33 128,424 125.81,422.67 123.41,421.33 121,420 121,447 119.6,447 119.6,446 116.28,445.61 112.96,445.21 110,445 107.63,445.08 105.61,445.34 103.6,445.6 103.6,419 101.04,420.67 98.49,422.33 96,424 93.62,425.67 91.31,427.33 89,429 89,455 85.89,457.07 82.78,459.15 80,461 77.78,462.48 75.89,463.74 74,465 74,439 71.3,439.55 68.59,440.1 66,440.4 63.59,440.3 61.3,439.95 59,439.6 59,464.6 56.67,463.49 54.33,462.38 52,461 49.43,458.96 46.85,456.64 45,455 44.35,454.56 44.43,454.78 44.5,455" fill="#ffff00"/><line x1="44.4" y1="364.4" x2="44.4" y2="456" stroke="#ffff00" stroke-width="2"/></g>
<clipPath id="c12"><rect x="323" y="363.9" width="215.5" height="130.35"/></clipPath>
<g clip-path="url(#c12)"><polygon points="324.5,386 327,386 327,406 335.6,409.6 335.6,384.4 338.47,385.33 341.35,386.25 344,387 346.28,387.45 348.34,387.73 350.4,388 350.4,391.6 357,392 357,417 366,408 366,385 367.93,383.26 369.85,381.52 372,380 374.49,378.79 377.2,377.79 380,377 382.87,376.47 385.84,376.13 388.8,375.8 388.8,396.7 394.1,396.7 394.1,370 396.16,370.02 398.21,370.04 400,370.1 401.3,370.17 402.33,370.28 403.5,370.5 404.97,370.84 406.58,371.29 408.2,371.9 409.86,372.73 411.52,373.71 413,374.7 414.16,375.63 415.13,376.57 416.1,377.5 416.1,402.5 425,409.2 425,384.1 426.52,384.74 428.04,385.37 430,386 432.7,386.61 435.85,387.2 439,387.8 439,391.6 445.6,392 445.6,417 456,408 456,385 457.93,383.26 459.85,381.52 462,380 464.5,378.79 467.23,377.81 470,377 472.77,376.41 475.59,376.01 478.4,375.6 478.4,397 484.4,397 484.4,370 485.6,370 485.6,397 486.8,397 486.8,370 489.24,370.27 491.69,370.55 494,371 496.09,371.68 498.04,372.54 500,373.6 502,374.93 504,376.47 506,378 506,403 515,408.4 515,384.4 518.11,385.33 521.22,386.25 524,387 526.22,387.45 528.11,387.73 530,388 530,391.6 535,392 535,417 537.5,416 537.5,468 532.6,469 532.6,441.8 530.4,442.07 528.2,442.35 526,442.4 523.8,442.08 521.6,441.54 519.4,441 519.4,436.5 517.6,436.5 517.6,462 515.08,460.2 512.56,458.4 510,456.4 507.36,454.07 504.68,451.53 502,449 502,427 500.02,424.93 498.04,422.85 496,421 493.84,419.52 491.62,418.26 489.4,417 489.4,442 483.6,443 483.6,447.4 482.53,447.59 481.45,447.77 480,448 477.92,448.3 475.46,448.65 473,449 473,423 469.9,424.58 466.81,426.16 464,427.6 461.67,428.82 459.64,429.91 457.6,431 457.6,460 455.08,461.95 452.56,463.9 450,465.6 447.36,466.9 444.68,467.95 442,469 442,441.8 440.7,442.07 439.41,442.35 438,442.4 436.41,442.08 434.7,441.54 433,441 433,437 431.6,437 431.6,463 430.56,463.01 429.53,463.03 428,462.4 425.6,460.72 422.71,458.39 420,456 417.75,453.71 415.67,451.36 413.6,449 413.6,427 410.99,424.52 408.39,422.04 406,420 403.99,418.7 402.19,417.85 400.4,417 400.4,442 394.4,443 394.4,447 392.99,447.33 391.59,447.67 390,448 388.12,448.33 386.06,448.67 384,449 384,423 380.92,424.6 377.84,426.21 375,427.8 372.57,429.37 370.39,430.94 368.2,432.5 368.2,461.2 365.22,463.12 362.24,465.04 359.4,466.6 356.8,467.54 354.35,468.12 351.9,468.7 351.9,442 349.9,442.27 347.9,442.55 346,442.6 344.27,442.28 342.63,441.74 341,441.2 341,437.1 339.2,437.1 339.2,462.7 337.25,461.8 335.3,460.89 333.5,459.9 331.94,458.76 330.52,457.53 329.1,456.3 328.9,460 327.96,460.5 327.03,461 326.2,461.5 325.56,462 325.03,462.5 324.5,463" fill="#00ff00"/><line x1="324.5" y1="364.4" x2="324.5" y2="463" stroke="#00ff00" stroke-width="2"/><path d="M324.6,364.4 L324.6,428 L324.8,418 C325.17,418.5 326.13,420 327,421 C327.87,422 328.83,423.17 330,424 C331.17,424.83 332.5,425.9 334,426 C335.5,426.1 337.33,425.2 339,424.6 C340.67,424 342.33,422.57 344,422.4 C345.67,422.23 347.17,422.93 349,423.6 C350.83,424.27 353.17,426.1 355,426.4 C356.83,426.7 358.33,426.47 360,425.4 C361.67,424.33 363.33,422.07 365,420 C366.67,417.93 368.33,415 370,413 C371.67,411 373.33,409.1 375,408 C376.67,406.9 378.33,406.3 380,406.4 C381.67,406.5 383.17,407.73 385,408.6 C386.83,409.47 389.17,411.27 391,411.6 C392.83,411.93 394.33,411.37 396,410.6 C397.67,409.83 399.33,407.77 401,407 C402.67,406.23 404.5,405.67 406,406 C407.5,406.33 408.5,407.17 410,409 C411.5,410.83 413.33,414.5 415,417 C416.67,419.5 418.33,422.43 420,424 C421.67,425.57 423.33,426.27 425,426.4 C426.67,426.53 428.33,425.43 430,424.8 C431.67,424.17 433.33,422.73 435,422.6 C436.67,422.47 438.17,423.33 440,424 C441.83,424.67 444.17,426.6 446,426.6 C447.83,426.6 449.33,425.43 451,424 C452.67,422.57 454.33,420.17 456,418 C457.67,415.83 459.33,412.83 461,411 C462.67,409.17 464.5,407.77 466,407 C467.5,406.23 468.5,406.07 470,406.4 C471.5,406.73 473.17,408.07 475,409 C476.83,409.93 479.17,411.73 481,412 C482.83,412.27 484.33,411.5 486,410.6 C487.67,409.7 489.5,407.47 491,406.6 C492.5,405.73 493.67,405.17 495,405.4 C496.33,405.63 497.5,406.23 499,408 C500.5,409.77 502.33,413.43 504,416 C505.67,418.57 507.5,421.67 509,423.4 C510.5,425.13 511.5,426.2 513,426.4 C514.5,426.6 516.17,425.23 518,424.6 C519.83,423.97 522,422.6 524,422.6 C526,422.6 528.17,423.93 530,424.6 C531.83,425.27 533.77,426.3 535,426.6 C536.23,426.9 537,426.43 537.4,426.4" fill="none" stroke="#ff0000" stroke-width="2.1" stroke-linejoin="round"/></g>
<g font-family='"Liberation Sans", Arial, sans-serif' font-size="10" fill="#262626"><text x="44.5" y="150" text-anchor="middle">0</text><text x="79.92" y="150" text-anchor="middle">5</text><text x="115.33" y="150" text-anchor="middle">10</text><text x="150.75" y="150" text-anchor="middle">15</text><text x="186.17" y="150" text-anchor="middle">20</text><text x="221.58" y="150" text-anchor="middle">25</text><text x="257" y="150" text-anchor="middle">30</text><text x="40.2" y="125.93" text-anchor="end">-200</text><text x="40.2" y="100.19" text-anchor="end">-100</text><text x="40.2" y="74.45" text-anchor="end">0</text><text x="40.2" y="48.71" text-anchor="end">100</text><text x="40.2" y="22.97" text-anchor="end">200</text></g>
<text x="150.75" y="164" text-anchor="middle" font-family='"Liberation Sans", Arial, sans-serif' font-size="11" fill="#262626">Time [s]</text>
<text transform="translate(14.7 70.85) rotate(-90)" text-anchor="middle" font-family='"Liberation Sans", Arial, sans-serif' font-size="11.2" fill="#262626">Control input 1 [N.m]</text>
<g font-family='"Liberation Sans", Arial, sans-serif' font-size="10" fill="#262626"><text x="324.5" y="150" text-anchor="middle">0</text><text x="360" y="150" text-anchor="middle">5</text><text x="395.5" y="150" text-anchor="middle">10</text><text x="431" y="150" text-anchor="middle">15</text><text x="466.5" y="150" text-anchor="middle">20</text><text x="502" y="150" text-anchor="middle">25</text><text x="537.5" y="150" text-anchor="middle">30</text><text x="320.2" y="125.93" text-anchor="end">-200</text><text x="320.2" y="100.19" text-anchor="end">-100</text><text x="320.2" y="74.45" text-anchor="end">0</text><text x="320.2" y="48.71" text-anchor="end">100</text><text x="320.2" y="22.97" text-anchor="end">200</text></g>
<text x="431" y="164" text-anchor="middle" font-family='"Liberation Sans", Arial, sans-serif' font-size="11" fill="#262626">Time [s]</text>
<text transform="translate(294.7 70.85) rotate(-90)" text-anchor="middle" font-family='"Liberation Sans", Arial, sans-serif' font-size="11.2" fill="#262626">Control input 1 [N.m]</text>
<g font-family='"Liberation Sans", Arial, sans-serif' font-size="10" fill="#262626"><text x="44.5" y="329.8" text-anchor="middle">0</text><text x="79.92" y="329.8" text-anchor="middle">5</text><text x="115.33" y="329.8" text-anchor="middle">10</text><text x="150.75" y="329.8" text-anchor="middle">15</text><text x="186.17" y="329.8" text-anchor="middle">20</text><text x="221.58" y="329.8" text-anchor="middle">25</text><text x="257" y="329.8" text-anchor="middle">30</text><text x="40.2" y="318.6" text-anchor="end">-400</text><text x="40.2" y="286.34" text-anchor="end">-200</text><text x="40.2" y="254.07" text-anchor="end">0</text><text x="40.2" y="221.81" text-anchor="end">200</text><text x="40.2" y="189.55" text-anchor="end">400</text></g>
<text x="150.75" y="343.8" text-anchor="middle" font-family='"Liberation Sans", Arial, sans-serif' font-size="11" fill="#262626">Time [s]</text>
<text transform="translate(14.7 250.47) rotate(-90)" text-anchor="middle" font-family='"Liberation Sans", Arial, sans-serif' font-size="11.2" fill="#262626">Control input 2 [N.m]</text>
<g font-family='"Liberation Sans", Arial, sans-serif' font-size="10" fill="#262626"><text x="324.5" y="329.8" text-anchor="middle">0</text><text x="360" y="329.8" text-anchor="middle">5</text><text x="395.5" y="329.8" text-anchor="middle">10</text><text x="431" y="329.8" text-anchor="middle">15</text><text x="466.5" y="329.8" text-anchor="middle">20</text><text x="502" y="329.8" text-anchor="middle">25</text><text x="537.5" y="329.8" text-anchor="middle">30</text><text x="320.2" y="318.6" text-anchor="end">-400</text><text x="320.2" y="286.34" text-anchor="end">-200</text><text x="320.2" y="254.07" text-anchor="end">0</text><text x="320.2" y="221.81" text-anchor="end">200</text><text x="320.2" y="189.55" text-anchor="end">400</text></g>
<text x="431" y="343.8" text-anchor="middle" font-family='"Liberation Sans", Arial, sans-serif' font-size="11" fill="#262626">Time [s]</text>
<text transform="translate(294.7 250.47) rotate(-90)" text-anchor="middle" font-family='"Liberation Sans", Arial, sans-serif' font-size="11.2" fill="#262626">Control input 2 [N.m]</text>
<g font-family='"Liberation Sans", Arial, sans-serif' font-size="10" fill="#262626"><text x="44.5" y="508.95" text-anchor="middle">0</text><text x="79.92" y="508.95" text-anchor="middle">5</text><text x="115.33" y="508.95" text-anchor="middle">10</text><text x="150.75" y="508.95" text-anchor="middle">15</text><text x="186.17" y="508.95" text-anchor="middle">20</text><text x="221.58" y="508.95" text-anchor="middle">25</text><text x="257" y="508.95" text-anchor="middle">30</text><text x="40.2" y="497.75" text-anchor="end">-150</text><text x="40.2" y="476.23" text-anchor="end">-100</text><text x="40.2" y="454.7" text-anchor="end">-50</text><text x="40.2" y="433.18" text-anchor="end">0</text><text x="40.2" y="411.65" text-anchor="end">50</text><text x="40.2" y="390.12" text-anchor="end">100</text><text x="40.2" y="368.6" text-anchor="end">150</text></g>
<text x="150.75" y="522.95" text-anchor="middle" font-family='"Liberation Sans", Arial, sans-serif' font-size="11" fill="#262626">Time [s]</text>
<text transform="translate(14.7 429.57) rotate(-90)" text-anchor="middle" font-family='"Liberation Sans", Arial, sans-serif' font-size="11.2" fill="#262626">Control input 3 [N.m]</text>
<g font-family='"Liberation Sans", Arial, sans-serif' font-size="10" fill="#262626"><text x="324.5" y="508.95" text-anchor="middle">0</text><text x="360" y="508.95" text-anchor="middle">5</text><text x="395.5" y="508.95" text-anchor="middle">10</text><text x="431" y="508.95" text-anchor="middle">15</text><text x="466.5" y="508.95" text-anchor="middle">20</text><text x="502" y="508.95" text-anchor="middle">25</text><text x="537.5" y="508.95" text-anchor="middle">30</text><text x="320.2" y="497.75" text-anchor="end">-150</text><text x="320.2" y="476.23" text-anchor="end">-100</text><text x="320.2" y="454.7" text-anchor="end">-50</text><text x="320.2" y="433.18" text-anchor="end">0</text><text x="320.2" y="411.65" text-anchor="end">50</text><text x="320.2" y="390.12" text-anchor="end">100</text><text x="320.2" y="368.6" text-anchor="end">150</text></g>
<text x="431" y="522.95" text-anchor="middle" font-family='"Liberation Sans", Arial, sans-serif' font-size="11" fill="#262626">Time [s]</text>
<text transform="translate(294.7 429.57) rotate(-90)" text-anchor="middle" font-family='"Liberation Sans", Arial, sans-serif' font-size="11.2" fill="#262626">Control input 3 [N.m]</text>
<rect x="186.5" y="13.5" width="62" height="15" fill="#fff" stroke="#3c3c3c" stroke-width="0.85"/>
<line x1="190" y1="21.2" x2="222" y2="21.2" stroke="#ffff00" stroke-width="1.4"/>
<text x="224.8" y="24.8" font-family='"Liberation Sans", Arial, sans-serif' font-size="9.2" fill="#000">SMC</text>
<rect x="414.5" y="13.5" width="115" height="27.5" fill="#fff" stroke="#3c3c3c" stroke-width="0.85"/>
<line x1="419" y1="21.5" x2="449.6" y2="21.5" stroke="#00ff00" stroke-width="1.4"/>
<line x1="419" y1="34" x2="449.6" y2="34" stroke="#ff0000" stroke-width="1.6"/>
<text x="453" y="24.8" font-family='"Liberation Sans", Arial, sans-serif' font-size="9.2" fill="#000">NFTSMC</text>
<text x="453" y="37.3" font-family='"Liberation Sans", Arial, sans-serif' font-size="9.2" fill="#000">Proposed Method</text>
</svg>
</body></html>
